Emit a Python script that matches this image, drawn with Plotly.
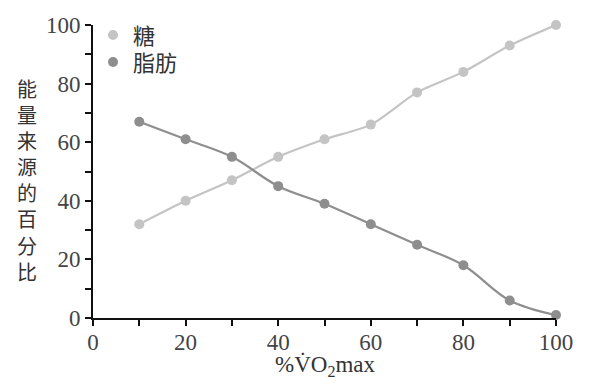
import plotly.graph_objects as go

x_pct = [10, 20, 30, 40, 50, 60, 70, 80, 90, 100]
carb = [32, 40, 47, 55, 61, 66, 77, 84, 93, 100]
fat = [67, 61, 55, 45, 39, 32, 25, 18, 6, 1]
tick_vals = [0, 20, 40, 60, 80, 100]
minor_vals = [10, 30, 50, 70, 90]
ytitle_chars = list("能量来源的百分比")

c_carb = "#c4c4c4"
c_fat = "#8e8e8e"
serif = "Liberation Serif"
cjk = "Noto Sans CJK SC"

fig = go.Figure()
fig.add_trace(go.Scatter(x=x_pct, y=carb, mode="lines+markers", line=dict(color=c_carb, width=2.2, shape="spline", smoothing=0.8),
                         marker=dict(color=c_carb, size=10), showlegend=False, cliponaxis=False))
fig.add_trace(go.Scatter(x=x_pct, y=fat, mode="lines+markers", line=dict(color=c_fat, width=2.2, shape="spline", smoothing=1.0),
                         marker=dict(color=c_fat, size=10), showlegend=False, cliponaxis=False))
fig.add_trace(go.Scatter(x=[None], y=[None], mode="markers", marker=dict(color=c_carb, size=10), name="糖", legend="legend"))
fig.add_trace(go.Scatter(x=[None], y=[None], mode="markers", marker=dict(color=c_fat, size=10), name="脂肪", legend="legend2"))

tickfont = dict(family=serif, size=23, color="#444")
minor = dict(tickvals=minor_vals, ticks="outside", ticklen=6, tickwidth=2, tickcolor="#111")

fig.update_xaxes(showline=True, linecolor="#111", linewidth=2, ticks="outside", ticklen=6, tickwidth=2,
                 tickcolor="#111", showgrid=False, zeroline=False, range=[0, 100],
                 tickfont=tickfont, tickvals=tick_vals, minor=minor, ticklabelstandoff=-4)
fig.update_yaxes(showline=True, linecolor="#111", linewidth=2, ticks="outside", ticklen=6, tickwidth=2,
                 tickcolor="#111", showgrid=False, zeroline=False, range=[0, 100],
                 tickfont=tickfont, tickvals=tick_vals, minor=minor)

fig.add_annotation(text="%V̇O<sub>2</sub>max", xref="paper", yref="paper", x=(325 - 93) / 463, y=(318 - 366) / 293,
                   xanchor="center", yanchor="middle", showarrow=False,
                   font=dict(family=serif, size=23, color="#333"))

top_px, step_px = 88, 26.1
for i, ch in enumerate(ytitle_chars):
    ypx = top_px + i * step_px
    fig.add_annotation(text=ch, xref="paper", yref="paper", x=(27 - 93) / 463, y=(318 - ypx) / 293,
                       xanchor="center", yanchor="middle", showarrow=False, borderpad=0, height=24,
                       font=dict(family=cjk, size=20, color="#333"))

leg = dict(x=0.0, xanchor="left", yanchor="top", bgcolor="rgba(0,0,0,0)",
           font=dict(family=cjk, size=22, color="#333"), itemwidth=30, tracegroupgap=0)
fig.update_layout(width=595, height=387, margin=dict(l=93, r=39, t=25, b=69),
                  paper_bgcolor="white", plot_bgcolor="white",
                  legend=dict(**leg, y=1.037), legend2=dict(**leg, y=0.945))

fig.write_html("out.html")
